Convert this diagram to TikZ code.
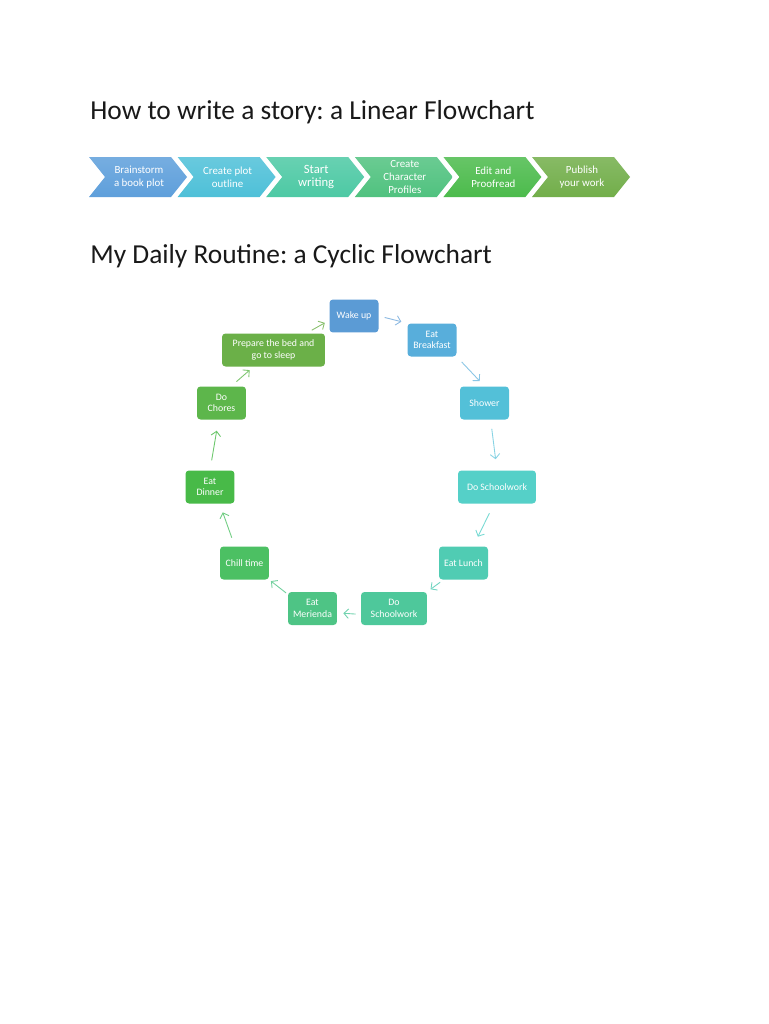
\documentclass[tikz,border=0pt]{standalone}
\usepackage{fontspec}
\setmainfont{Carlito}
\usepackage{tikz}
\usetikzlibrary{arrows.meta}
\frenchspacing

% chevron colours
\definecolor{chevA}{HTML}{5E9FDB}
\definecolor{chevB}{HTML}{4EC0D8}
\definecolor{chevC}{HTML}{4DC9A4}
\definecolor{chevD}{HTML}{50C27F}
\definecolor{chevE}{HTML}{4CBB4C}
\definecolor{chevF}{HTML}{72AE4A}
% cycle colours
\definecolor{cwake}{HTML}{5B9BD5}
\definecolor{cbreak}{HTML}{58AEDB}
\definecolor{cshower}{HTML}{53C0D8}
\definecolor{cschoolA}{HTML}{55D0C8}
\definecolor{clunch}{HTML}{50CCB3}
\definecolor{cschoolB}{HTML}{4EC89B}
\definecolor{cmerienda}{HTML}{4EC485}
\definecolor{cchill}{HTML}{4CC063}
\definecolor{cdinner}{HTML}{48BA48}
\definecolor{cchores}{HTML}{5DB64B}
\definecolor{cprepare}{HTML}{6BB048}

\newcommand{\titlefont}{\fontsize{15.6}{18}\selectfont}
\newcommand{\chevfont}{\fontsize{6.2}{7.6}\selectfont}
\newcommand{\bigchevfont}{\fontsize{7.2}{8.4}\selectfont}
\newcommand{\boxfont}{\fontsize{5.6}{6.6}\selectfont}

\begin{document}
\begin{tikzpicture}[x=0.02cm, y=-0.02cm,
  heading/.style={anchor=base west, font=\titlefont, text=black!90, inner sep=0pt},
  chevtext/.style={align=center, text=white, font=\chevfont, inner sep=0pt},
  box/.style={rounded corners=2pt, minimum width=0.98cm, minimum height=0.66cm,
    inner sep=1pt, align=center, text=white, font=\boxfont},
  link/.style={->, >={Straight Barb[length=2.6pt,width=5.4pt]}, line width=0.5pt}]

\useasboundingbox[fill=white] (0,0) rectangle (768,1024);

% Titles
\node[heading] (title1) at (90,119.5) {How to write a story: a Linear Flowchart};
\node[heading] (title2) at (90,263.5) {My Daily Routine: a Cyclic Flowchart};

% Linear flowchart (chevrons)
\foreach \i/\col/\txt in {0/chevA/{Brainstorm\\a book plot},
    1/chevB/{Create plot\\outline},
    2/chevC/{\bigchevfont Start\\\bigchevfont writing},
    3/chevD/{Create\\Character\\Profiles},
    4/chevE/{Edit and\\Proofread},
    5/chevF/{Publish\\your work}} {
  \pgfmathsetmacro\xa{89+88.6*\i}
  \shade[top color=\col!85!white, bottom color=\col]
    (\xa,157) -- (\xa+82,157) -- (\xa+98,177) -- (\xa+82,197)
    -- (\xa,197) -- (\xa+16,177) -- cycle;
  \node[chevtext] (chev\i) at (\xa+50,177) {\txt};
}

% Cyclic flowchart
\node[box, fill=cwake] (wake) at (354,316) {Wake up};
\node[box, fill=cbreak] (breakfast) at (432,340) {Eat\\Breakfast};
\node[box, fill=cshower] (shower) at (484.5,403) {Shower};
\node[box, fill=cschoolA, minimum width=1.56cm] (schoolA) at (497,487) {Do Schoolwork};
\node[box, fill=clunch] (lunch) at (463.5,563) {Eat Lunch};
\node[box, fill=cschoolB, minimum width=1.32cm] (schoolB) at (394,608.5) {Do\\Schoolwork};
\node[box, fill=cmerienda] (merienda) at (312.5,608.5) {Eat\\Merienda};
\node[box, fill=cchill] (chill) at (244.5,563) {Chill time};
\node[box, fill=cdinner] (dinner) at (210,487) {Eat\\Dinner};
\node[box, fill=cchores] (chores) at (221.5,403) {Do\\Chores};
\node[box, fill=cprepare, minimum width=2.06cm] (prepare) at (273.5,350) {Prepare the bed and\\go to sleep};

% Connectors
\draw[link, cwake!70!white, shorten <=0.12cm, shorten >=0.12cm] (wake.east) -- (breakfast.north west);
\draw[link, cbreak!70!white, shorten <=0.14cm, shorten >=0.14cm] (breakfast.south east) -- (shower.north);
\draw[link, cshower!70!white, shorten <=0.18cm, shorten >=0.22cm] (shower.-70) -- (schoolA.north);
\draw[link, cschoolA!80!white, shorten <=0.21cm, shorten >=0.21cm] (schoolA.-100) -- (lunch.60);
\draw[link, clunch!80!white, shorten <=0.08cm, shorten >=0.08cm] (lunch.-140) -- (schoolB.north east);
\draw[link, cschoolB!80!white, shorten <=0.1cm, shorten >=0.12cm] (schoolB.190) -- (merienda.-10);
\draw[link, cmerienda!80!white, shorten <=0.04cm, shorten >=0.04cm] (merienda.150) -- (chill.south east);
\draw[link, cchill!80!white, shorten <=0.18cm, shorten >=0.18cm] (chill.120) -- (dinner.-60);
\draw[link, cdinner!80!white, shorten <=0.2cm, shorten >=0.22cm] (dinner.north) -- (chores.-100);
\draw[link, cchores!80!white, shorten <=0.14cm, shorten >=0.1cm] (chores.60) -- (prepare.-140);
\draw[link, cprepare!80!white, shorten <=0.12cm, shorten >=0.1cm] (prepare.27) -- (wake.190);

\end{tikzpicture}
\end{document}
